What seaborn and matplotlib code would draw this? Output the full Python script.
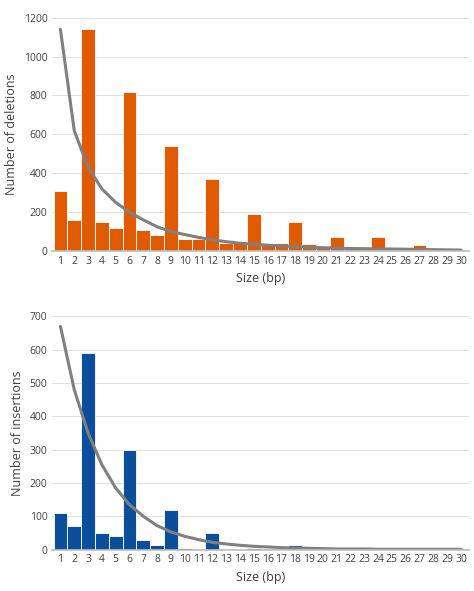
import matplotlib
matplotlib.use("Agg")
import matplotlib.pyplot as plt
import seaborn as sns
import numpy as np
import pandas as pd

sizes = list(range(1, 31))
deletions = [310,160,1140,150,120,820,110,80,540,60,60,370,40,40,190,30,40,150,35,25,70,20,20,70,20,20,30,5,3,2]
del_trend = [1140,620,430,320,250,200,160,125,100,85,70,58,48,40,35,30,26,22,19,17,15,13,12,11,10,9,8,7,6,5]
insertions = [110,70,590,50,40,300,30,15,120,5,1,50,2,1,5,2,2,15,1,1,1,1,1,1,1,1,1,1,1,1]
ins_trend = [670,480,350,255,185,135,100,72,53,40,30,22,17,13,10,8,6,5,4,3,2,2,2,1,1,1,1,1,1,1]

sns.set_theme(style="white")
plt.rcParams['font.family'] = ['Open Sans', 'DejaVu Sans']
fig, axes = plt.subplots(2, 1, figsize=(4.74, 5.91), dpi=100)

panels = [(axes[0], deletions, del_trend, "#E05A00", "Number of deletions", 1200, 200, "A"),
          (axes[1], insertions, ins_trend, "#0B4F9C", "Number of insertions", 700, 100, "B")]
for ax, vals, trend, col, ylab, ymax, step, lab in panels:
    df = pd.DataFrame({"size": [str(s) for s in sizes], "n": vals})
    sns.barplot(data=df, x="size", y="n", color=col, saturation=1, width=1.0,
                edgecolor="white", linewidth=0.6, ax=ax)
    ax.plot(np.arange(len(sizes)), trend, color="#808080", lw=2.2)
    ax.set_ylim(0, ymax)
    ax.set_yticks(range(0, ymax + 1, step))
    ax.set_xlim(-0.6, 29.6)
    ax.yaxis.grid(True, color="#e0e0e0", lw=0.7)
    ax.set_axisbelow(True)
    sns.despine(ax=ax, left=True)
    ax.spines['bottom'].set_color("#bfbfbf")
    ax.tick_params(axis='both', labelsize=7.5, colors="#404040", length=0)
    ax.set_xlabel("Size (bp)", fontsize=9, color="#404040")
    ax.set_ylabel(ylab, fontsize=9, color="#404040")
    ax.text(-0.02, 1.0, lab, transform=fig.transFigure if False else ax.transAxes,
            fontsize=10, fontweight="bold", ha="right", va="bottom")
    ax.texts[-1].set_position((-0.13, 1.0))

fig.subplots_adjust(left=0.11, right=0.99, top=0.97, bottom=0.07, hspace=0.28)
fig.savefig("out.png")
